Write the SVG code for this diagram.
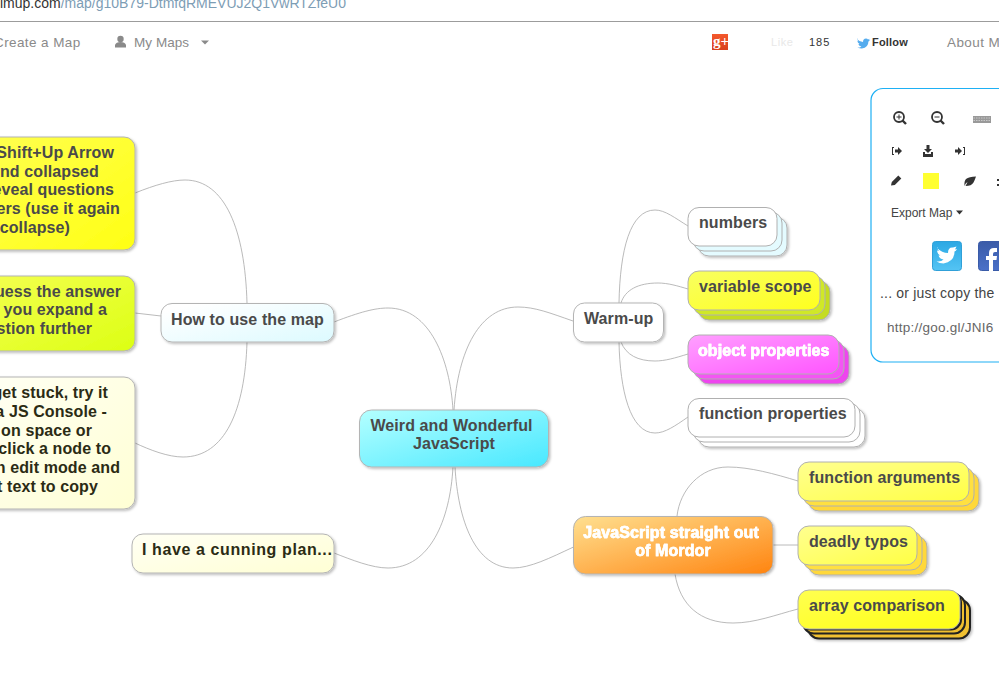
<svg xmlns="http://www.w3.org/2000/svg" width="999" height="699" viewBox="0 0 999 699">
<style>
text{font-family:"Liberation Sans",Arial,sans-serif}
.t{font-size:16px;font-weight:700;fill:#4a4a4a;letter-spacing:.1px}
.k{fill:#2b2b14}
.w{fill:#fff;stroke:#fff;stroke-width:.5px;filter:url(#glow)}
.m{text-anchor:middle}
.e{text-anchor:end}
.n{stroke:#b4b4b4;stroke-width:1;filter:url(#sh)}
.s{stroke:#b0b0b0;stroke-width:1}
.c path{fill:none;stroke:#a8a8a8;stroke-width:.8}
.nav{font-size:13.5px;fill:#8a8a8a;letter-spacing:.05px}
.wide{letter-spacing:.4px}
.ic{fill:#333}
</style>
<defs>
<filter id="sh" x="-10%" y="-20%" width="125%" height="150%"><feDropShadow dx="1.500" dy="1.500" stdDeviation="1.300" flood-color="#000" flood-opacity=".25"/></filter>
<filter id="glow" x="-5%" y="-20%" width="110%" height="140%"><feDropShadow dx="0" dy="0" stdDeviation=".6" flood-color="#fff" flood-opacity=".8"/></filter>
<linearGradient id="gWC" x1="0" y1="0" x2="1" y2="1"><stop offset=".1" stop-color="#fff"/><stop offset="1" stop-color="#dcfaff"/></linearGradient>
<linearGradient id="gRoot" x1="0" y1="0" x2="1" y2="1"><stop offset="0" stop-color="#b4ffff"/><stop offset="1" stop-color="#48e8ff"/></linearGradient>
<linearGradient id="gY" x1="0" y1="0" x2="1" y2="1"><stop offset="0" stop-color="#ffff50"/><stop offset="1" stop-color="#ffff14"/></linearGradient>
<linearGradient id="gYG" x1="0" y1="0" x2="1" y2="1"><stop offset="0" stop-color="#f4ff50"/><stop offset="1" stop-color="#dcff14"/></linearGradient>
<linearGradient id="gCr" x1="0" y1="0" x2="1" y2="1"><stop offset="0" stop-color="#fffff4"/><stop offset="1" stop-color="#ffffd4"/></linearGradient>
<linearGradient id="gVS" x1="0" y1="0" x2="1" y2="1"><stop offset="0" stop-color="#f8ff60"/><stop offset="1" stop-color="#ffff1e"/></linearGradient>
<linearGradient id="gPk" x1="0" y1="0" x2="1" y2="1"><stop offset="0" stop-color="#ffa0ff"/><stop offset="1" stop-color="#ff55ff"/></linearGradient>
<linearGradient id="gLY" x1="0" y1="0" x2="1" y2="1"><stop offset="0" stop-color="#ffff90"/><stop offset="1" stop-color="#ffff44"/></linearGradient>
<linearGradient id="gOr" x1="0" y1="0" x2="1" y2="1"><stop offset="0" stop-color="#ffe090"/><stop offset="1" stop-color="#ff8410"/></linearGradient>
<linearGradient id="gTw" x1="0" y1="0" x2="0" y2="1"><stop offset="0" stop-color="#2ca8e4"/><stop offset="1" stop-color="#54c4f4"/></linearGradient>
<linearGradient id="gFb" x1="0" y1="0" x2="0" y2="1"><stop offset="0" stop-color="#3a5ba8"/><stop offset="1" stop-color="#4a70c8"/></linearGradient>
<linearGradient id="gGp" x1="0" y1="0" x2="0" y2="1"><stop offset="0" stop-color="#f4582c"/><stop offset="1" stop-color="#d8401c"/></linearGradient>
</defs>

<rect width="999" height="699" fill="#fff"/>

<g id="browser-bar">
<text x="0" y="8" font-size="14" fill="#7d9db5"><tspan fill="#333">lmup.com</tspan>/map/g10B79-DtmfqRMEVUJ2Q1VwRTZfeU0</text>
<rect x="0" y="21" width="999" height="1" fill="#9c9c9c"/>
</g>

<g id="nav">
<text class="nav wide" x="-6" y="47">Create a Map</text>
<circle cx="120.500" cy="39" r="3.200" fill="#8a8a8a"/><path d="M115,47.500v-2.500q1-3 5.500-3t5.500 3v2.500z" fill="#8a8a8a"/>
<text class="nav" x="134" y="47">My Maps</text>
<path d="M201,40.500h8l-4,4z" fill="#8a8a8a"/>
<rect x="712" y="34" width="16" height="16" fill="url(#gGp)"/>
<text x="713" y="46" font-size="15" font-weight="700" fill="#fff" style="font-family:'Liberation Serif',serif">g+</text>
<text x="771" y="46" font-size="11" letter-spacing=".6" fill="#e8e8e8">Like</text>
<text x="809" y="46" font-size="11" letter-spacing="1" fill="#333">185</text>
<path d="M857,39q2.500,3 6,3q0-3.500 3-3.500q1.500,0 2,1l1.700-.8l-.8,1.600l1-.2q-.6,1-1.500,1.500q0,6-6.500,7q-2.500,0-4.500-1q3,0 4-1.200q-2.500-.5-3-2.500h1.200q-2-1-2.300-3l1,.3q-1.600-1.500-.8-3.200z" fill="#55acee"/>
<text x="872" y="46" font-size="11" font-weight="700" letter-spacing=".2" fill="#333">Follow</text>
<text class="nav wide" x="947" y="47">About Me</text>
</g>

<g id="toolbar-panel">
<rect x="871" y="88.500" width="150" height="273.500" rx="12" fill="#fff" stroke="#1eb0f4" stroke-width="1.200"/>
<g fill="none" stroke="#333" stroke-width="1.800">
<circle cx="899" cy="117" r="5"/><path d="M902.500,120.500l3.500,3.500" stroke-width="2.400"/><path d="M896.500,117h5M899,114.500v5" stroke-width="1"/>
<circle cx="937" cy="117" r="5"/><path d="M940.500,120.500l3.500,3.500" stroke-width="2.400"/><path d="M934.500,117h5" stroke-width="1"/>
</g>
<rect x="973" y="116" width="18" height="7" fill="#999"/>
<path d="M973.500,118h17M973.500,120.500h17" stroke="#ddd" stroke-width=".7" stroke-dasharray="1.500 1"/>
<path d="M892,147h2v1h-1v6h1v1h-2zM895,149.500h3v-2.500l4,4l-4,4v-2.500h-3z" class="ic"/>
<path d="M926.500,145h3v4h2.500l-4,4l-4-4h2.500zM923,152h2v2h6v-2h2v5h-10z" class="ic"/>
<path d="M955,149.500h3v-2.500l4,4l-4,4v-2.500h-3zM963,147h2v8h-2v-1h1v-6h-1z" class="ic"/>
<path d="M891,185.500l.8-3.500l6.500-6.500l3,3l-6.500,6.500z" class="ic"/>
<rect x="923" y="173" width="16" height="16" fill="#ffff30"/>
<path d="M964.500,186q1-3 3-4q-1,2.500-2,4q6,0 8-3.500q1.500-3 2.500-6q-7,0-10,2.500q-2,2-1.500,7z" class="ic"/>
<rect x="997" y="179" width="2" height="2" fill="#333"/><rect x="997" y="184" width="2" height="2" fill="#333"/>
<text x="891" y="217" font-size="12" fill="#444">Export Map</text>
<path d="M956,210.500h7l-3.500,4z" fill="#333"/>
<rect x="932.500" y="241.500" width="29" height="29" rx="3" fill="url(#gTw)" stroke="#30a0d8"/>
<path d="M937,248q5,5 11,5q0-6 5-5.500l3.500-1l-1.500,3l2-.5q-1,2-2.500,2.500q0,10-11,12q-4,0-7-2q5,.5 7-2q-4-.5-5-4h2q-3-1-3.500-5l2,.5q-2.500-2.500-1-5.500z" fill="#fff"/>
<rect x="978.500" y="241.500" width="30" height="29" rx="3" fill="url(#gFb)" stroke="#3a5ba8"/>
<path d="M989,271v-11h-3v-4h3v-3q0-5 5-5h3v4h-2q-2,0-2,2v2h4l-.5,4h-3.500v11z" fill="#fff"/>
<text x="880" y="298" font-size="14" letter-spacing=".2" fill="#444">... or just copy the</text>
<text x="887" y="332" font-size="13.500" letter-spacing=".25" fill="#666">http://goo.gl/JNI6</text>
</g>

<g id="connectors" class="c">
<path d="M334,322C360,312 375,308 388,308C430,308 450,360 453,410"/>
<path d="M573,321C550,313 535,307 518,307C480,307 458,350 454,410"/>
<path d="M334,553C352,560 372,568 388,568C430,568 450,520 453,467"/>
<path d="M573.500,547C550,558 530,568 513,568C475,568 458,520 455,467"/>
<path d="M135,193C155,185 172,180 185,180C225,180 245,230 247,303"/>
<path d="M135,313L161,316"/>
<path d="M135,443C150,450 168,457 183,457C225,457 245,410 247,342"/>
<path d="M688,226C675,218 665,210 655,210C630,210 620,250 619,303"/>
<path d="M688,289C678,286 668,283 658,283C638,283 625,290 621,303"/>
<path d="M688,354C675,358 665,361 655,361C638,361 626,355 621,342"/>
<path d="M688,417C675,426 665,433 655,433C630,433 620,390 619,342"/>
<path d="M798,481C775,474 750,467 728,467C700,467 680,490 677,516"/>
<path d="M773,545H798"/>
<path d="M798,609C775,615 755,623 733,623C700,623 680,605 675,574"/>
</g>

<g id="root">
<rect class="n" x="359.500" y="410" width="189" height="57" rx="12" fill="url(#gRoot)"/>
<text class="t m" x="451.500" y="431">Weird and Wonderful</text>
<text class="t m" x="454" y="449">JavaScript</text>
</g>

<g id="how-to-use">
<rect class="n" x="161" y="303.500" width="173" height="38.500" rx="11" fill="url(#gWC)"/>
<text class="t" x="171" y="325">How to use the map</text>
</g>
<g id="warm-up">
<rect class="n" x="573.500" y="303" width="90" height="39" rx="11" fill="#fff"/>
<text class="t" x="584" y="324">Warm-up</text>
</g>
<g id="cunning-plan">
<rect class="n" x="132" y="534" width="202" height="39" rx="11" fill="url(#gCr)"/>
<text class="t k" x="142" y="555" letter-spacing=".6" style="letter-spacing:.6px">I have a cunning plan...</text>
</g>
<g id="mordor">
<rect class="n" x="573.500" y="516.500" width="199.500" height="57.500" rx="12" fill="url(#gOr)"/>
<text class="t w m" x="671" y="538">JavaScript straight out</text>
<text class="t w m" x="673" y="556">of Mordor</text>
</g>

<g id="leaf-shift-up">
<rect class="n" x="-20" y="137" width="155" height="113" rx="11" fill="url(#gY)"/>
<text class="t e" x="114" y="158">Shift+Up Arrow</text>
<text class="t e" x="99" y="177">nd collapsed</text>
<text class="t e" x="114" y="195">eveal questions</text>
<text class="t e" x="120" y="214">ers (use it again</text>
<text class="t e" x="70" y="233">collapse)</text>
</g>
<g id="leaf-guess">
<rect class="n" x="-20" y="276" width="155" height="75" rx="11" fill="url(#gYG)"/>
<text class="t e" x="121" y="297">uess the answer</text>
<text class="t e" x="107" y="315">you expand a</text>
<text class="t e" x="92" y="334">stion further</text>
</g>
<g id="leaf-stuck">
<rect class="n" x="-20" y="377" width="155" height="132" rx="11" fill="url(#gCr)"/>
<text class="t k e" x="108" y="398">get stuck, try it</text>
<text class="t k e" x="107" y="417">a JS Console -</text>
<text class="t k e" x="92" y="436">on space or</text>
<text class="t k e" x="111" y="454">click a node to</text>
<text class="t k e" x="120" y="473">n edit mode and</text>
<text class="t k e" x="98" y="492">t text to copy</text>
</g>

<g id="numbers">
<rect class="s" x="698" y="217" width="89" height="39" rx="11" fill="#e4fbff" filter="url(#sh)"/>
<rect class="s" x="693" y="212" width="89" height="39" rx="11" fill="#e4fbff"/>
<rect class="s" x="688" y="207.500" width="89" height="38.500" rx="11" fill="#fff"/>
<text class="t" x="699" y="228">numbers</text>
</g>
<g id="variable-scope">
<rect class="s" x="698" y="281" width="132" height="39" rx="11" fill="#c4dc20" filter="url(#sh)"/>
<rect class="s" x="693" y="276" width="132" height="39" rx="11" fill="#d0e828"/>
<rect class="s" x="688" y="271" width="132" height="39" rx="11" fill="url(#gVS)"/>
<text class="t" x="699" y="292">variable scope</text>
</g>
<g id="object-properties">
<rect class="s" x="698" y="345" width="151" height="39" rx="11" fill="#ee44ee" filter="url(#sh)"/>
<rect class="s" x="693" y="340" width="151" height="39" rx="11" fill="#f455f4"/>
<rect class="s" x="688" y="335" width="151" height="39" rx="11" fill="url(#gPk)"/>
<text class="t w" x="698" y="356">object properties</text>
</g>
<g id="function-properties">
<rect class="s" x="698" y="408" width="167" height="39" rx="11" fill="#fff" filter="url(#sh)"/>
<rect class="s" x="693" y="403" width="167" height="39" rx="11" fill="#fff"/>
<rect class="s" x="688" y="398.500" width="167" height="38.500" rx="11" fill="#fff"/>
<text class="t" x="699" y="419">function properties</text>
</g>
<g id="function-arguments">
<rect class="s" x="808" y="472" width="171" height="39" rx="11" fill="#ffd83a" filter="url(#sh)"/>
<rect class="s" x="803" y="467" width="171" height="39" rx="11" fill="#ffe040"/>
<rect class="s" x="798" y="462" width="171" height="39" rx="11" fill="url(#gLY)"/>
<text class="t" x="809" y="483">function arguments</text>
</g>
<g id="deadly-typos">
<rect class="s" x="808" y="536" width="119" height="39" rx="11" fill="#ffd83a" filter="url(#sh)"/>
<rect class="s" x="803" y="531" width="119" height="39" rx="11" fill="#ffe040"/>
<rect class="s" x="798" y="526" width="119" height="39" rx="11" fill="url(#gLY)"/>
<text class="t" x="809" y="547">deadly typos</text>
</g>
<g id="array-comparison">
<rect x="808" y="599.500" width="162" height="39" rx="11" fill="#f0c030" stroke="#222" stroke-width="2" filter="url(#sh)"/>
<rect x="803" y="594.500" width="162" height="39" rx="11" fill="#f0c030" stroke="#222" stroke-width="2"/>
<rect x="800" y="591.500" width="162" height="39" rx="11" fill="#222"/>
<rect class="s" x="798" y="590" width="162" height="39" rx="11" fill="url(#gY)"/>
<text class="t" x="809" y="611">array comparison</text>
</g>
</svg>
